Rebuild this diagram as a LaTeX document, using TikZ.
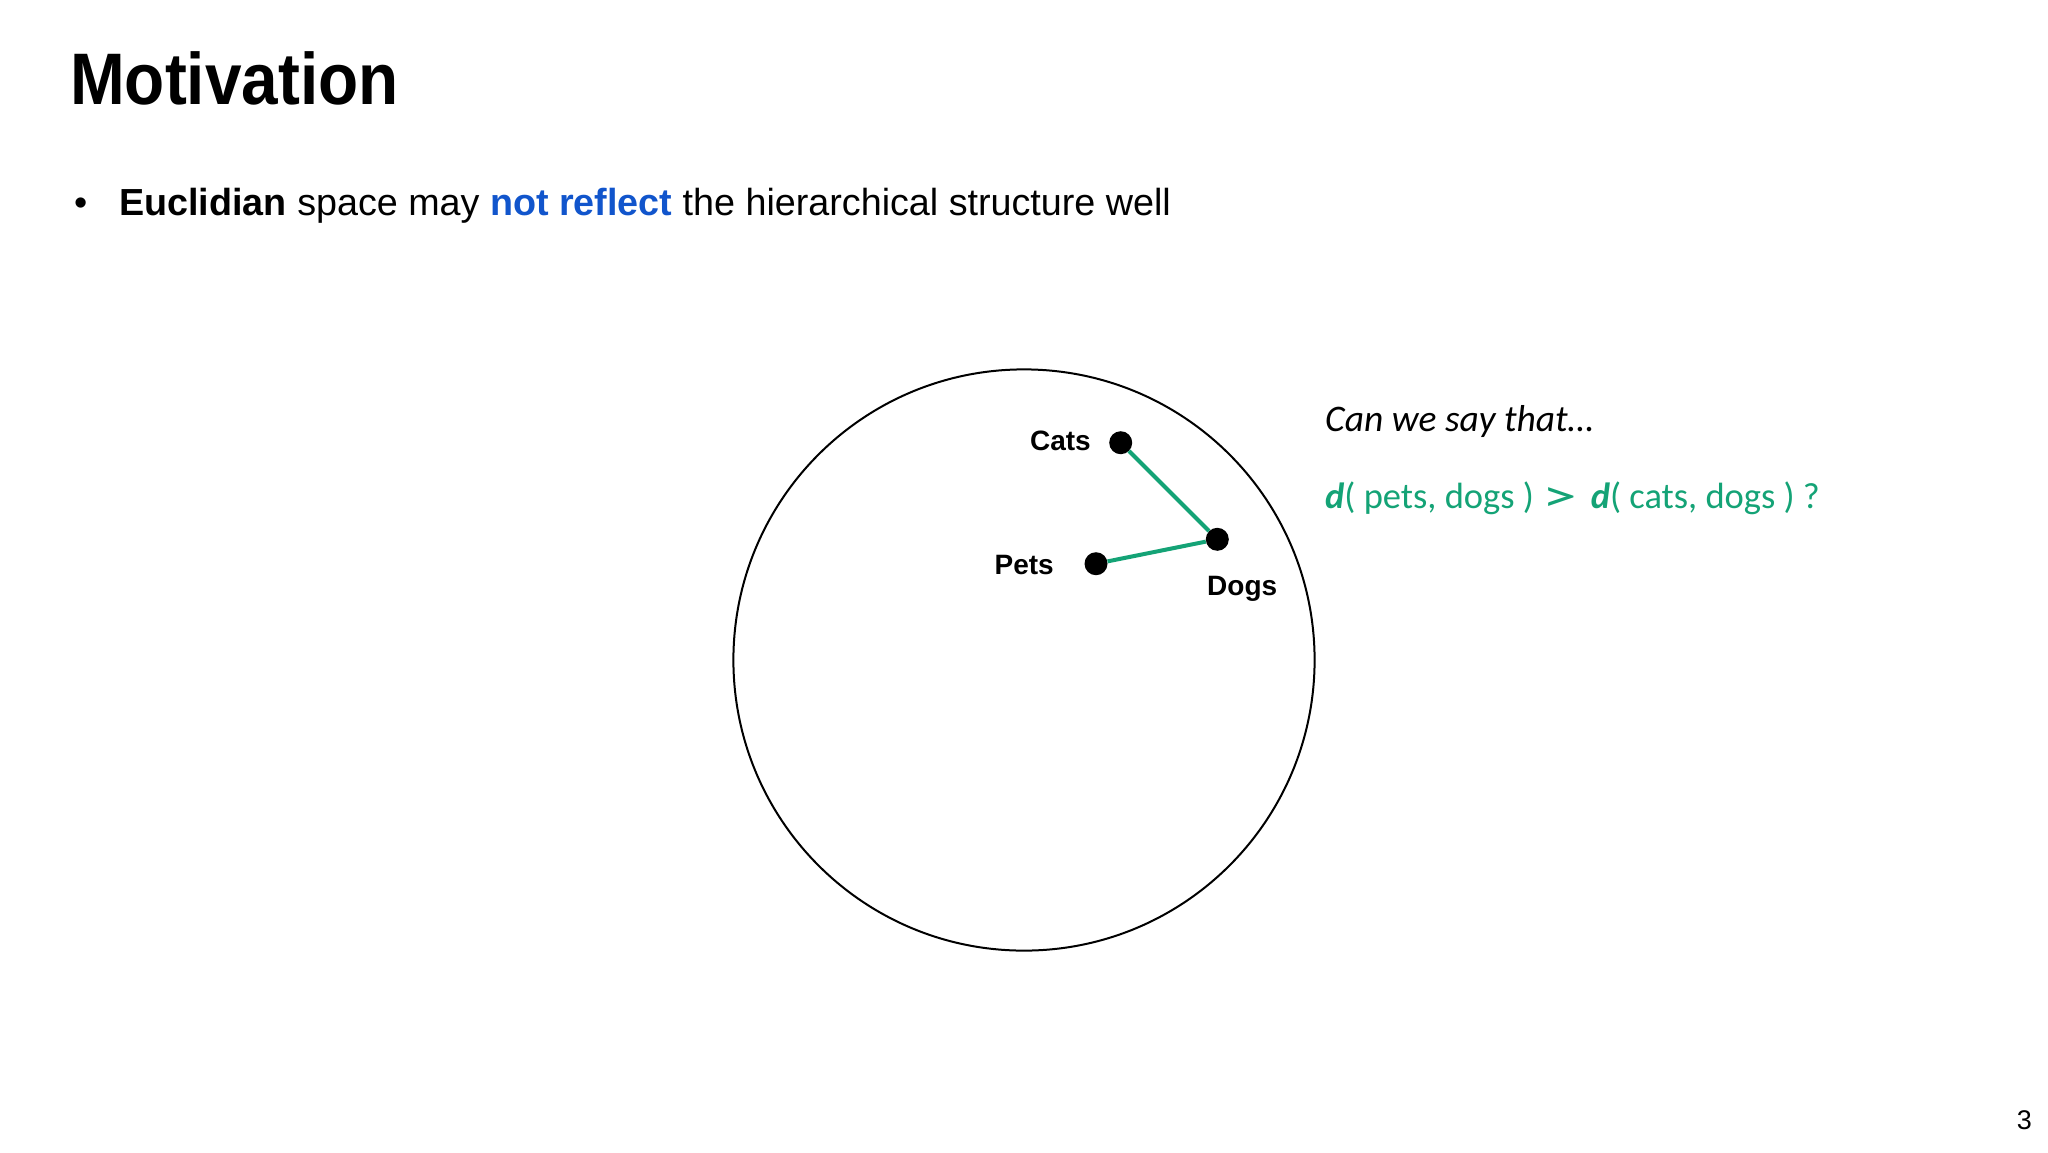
\documentclass[tikz,border=0pt]{standalone}
\usepackage{fontspec}
\setmainfont{Liberation Sans}
\newfontfamily\robofont[FakeStretch=0.9]{Liberation Sans}
\newfontfamily\calfont{Carlito}
\definecolor{linkgreen}{RGB}{20,163,118}
\definecolor{slideblue}{RGB}{17,85,204}
\usetikzlibrary{positioning}

\begin{document}
\begin{tikzpicture}[x=1pt,y=-1pt,
    dot/.style={circle,fill=black,inner sep=0pt,minimum size=23pt},
    link/.style={linkgreen,line width=4pt},
    txt/.style={inner sep=0pt,anchor=base west},
    lbl/.style={inner sep=0pt,font=\fontsize{28}{30}\selectfont\bfseries}]
    %SLIDE:
    \fill[white] (0,0) rectangle (2048,1152);
    \useasboundingbox (0,0) rectangle (2048,1152);
    %titulo y bullet------------------
    \node[txt,font=\robofont\fontsize{73}{80}\selectfont\bfseries] (title) at (70,104) {Motivation};
    \node[txt,font=\fontsize{37.7}{42}\selectfont] (bullet) at (74,215) {\textbullet};
    \node[txt,font=\fontsize{37.7}{42}\selectfont] (claim) at (119,215)
        {\textbf{Euclidian} space may {\color{slideblue}\bfseries not reflect} the hierarchical structure well};
    %----------------------------------
    %ESPACIO:
    \begin{scope}
    \draw[line width=2pt] (1024,660) circle[radius=290.6pt];
    %puntos----------------------------
    \node[dot] (cats) at (1120.7,442.7) {};
    \node[dot] (dogs) at (1217.3,539.3) {};
    \node[dot] (pets) at (1096,563.7) {};
    \draw[link] (cats) -- (dogs);
    \draw[link] (pets) -- (dogs);
    \node[lbl,anchor=base east] (catslbl) at (1091,450.7) {Cats};
    \node[lbl,anchor=base east] (petslbl) at (1054,574.3) {Pets};
    \node[lbl,anchor=base west] (dogslbl) at (1207,595) {Dogs};
    %----------------------------------
    \end{scope}
    %PREGUNTA:
    \node[txt,font=\calfont\itshape\fontsize{37.5}{42}\selectfont] (question) at (1325,431.7) {Can we say that…};
    \node[txt,font=\calfont\fontsize{36.5}{42}\selectfont,text=linkgreen] (ineq) at (1325,508.3)
        {\textbf{\textit{d}}( pets, dogs ) \raisebox{-3pt}{\scalebox{1.9}[1.25]{>}}\hspace{14pt}\textbf{\textit{d}}( cats, dogs ) ?};
    \node[inner sep=0pt,anchor=base east,font=\fontsize{27}{30}\selectfont] (pagenum) at (2032,1129) {3};
\end{tikzpicture}
\end{document}
